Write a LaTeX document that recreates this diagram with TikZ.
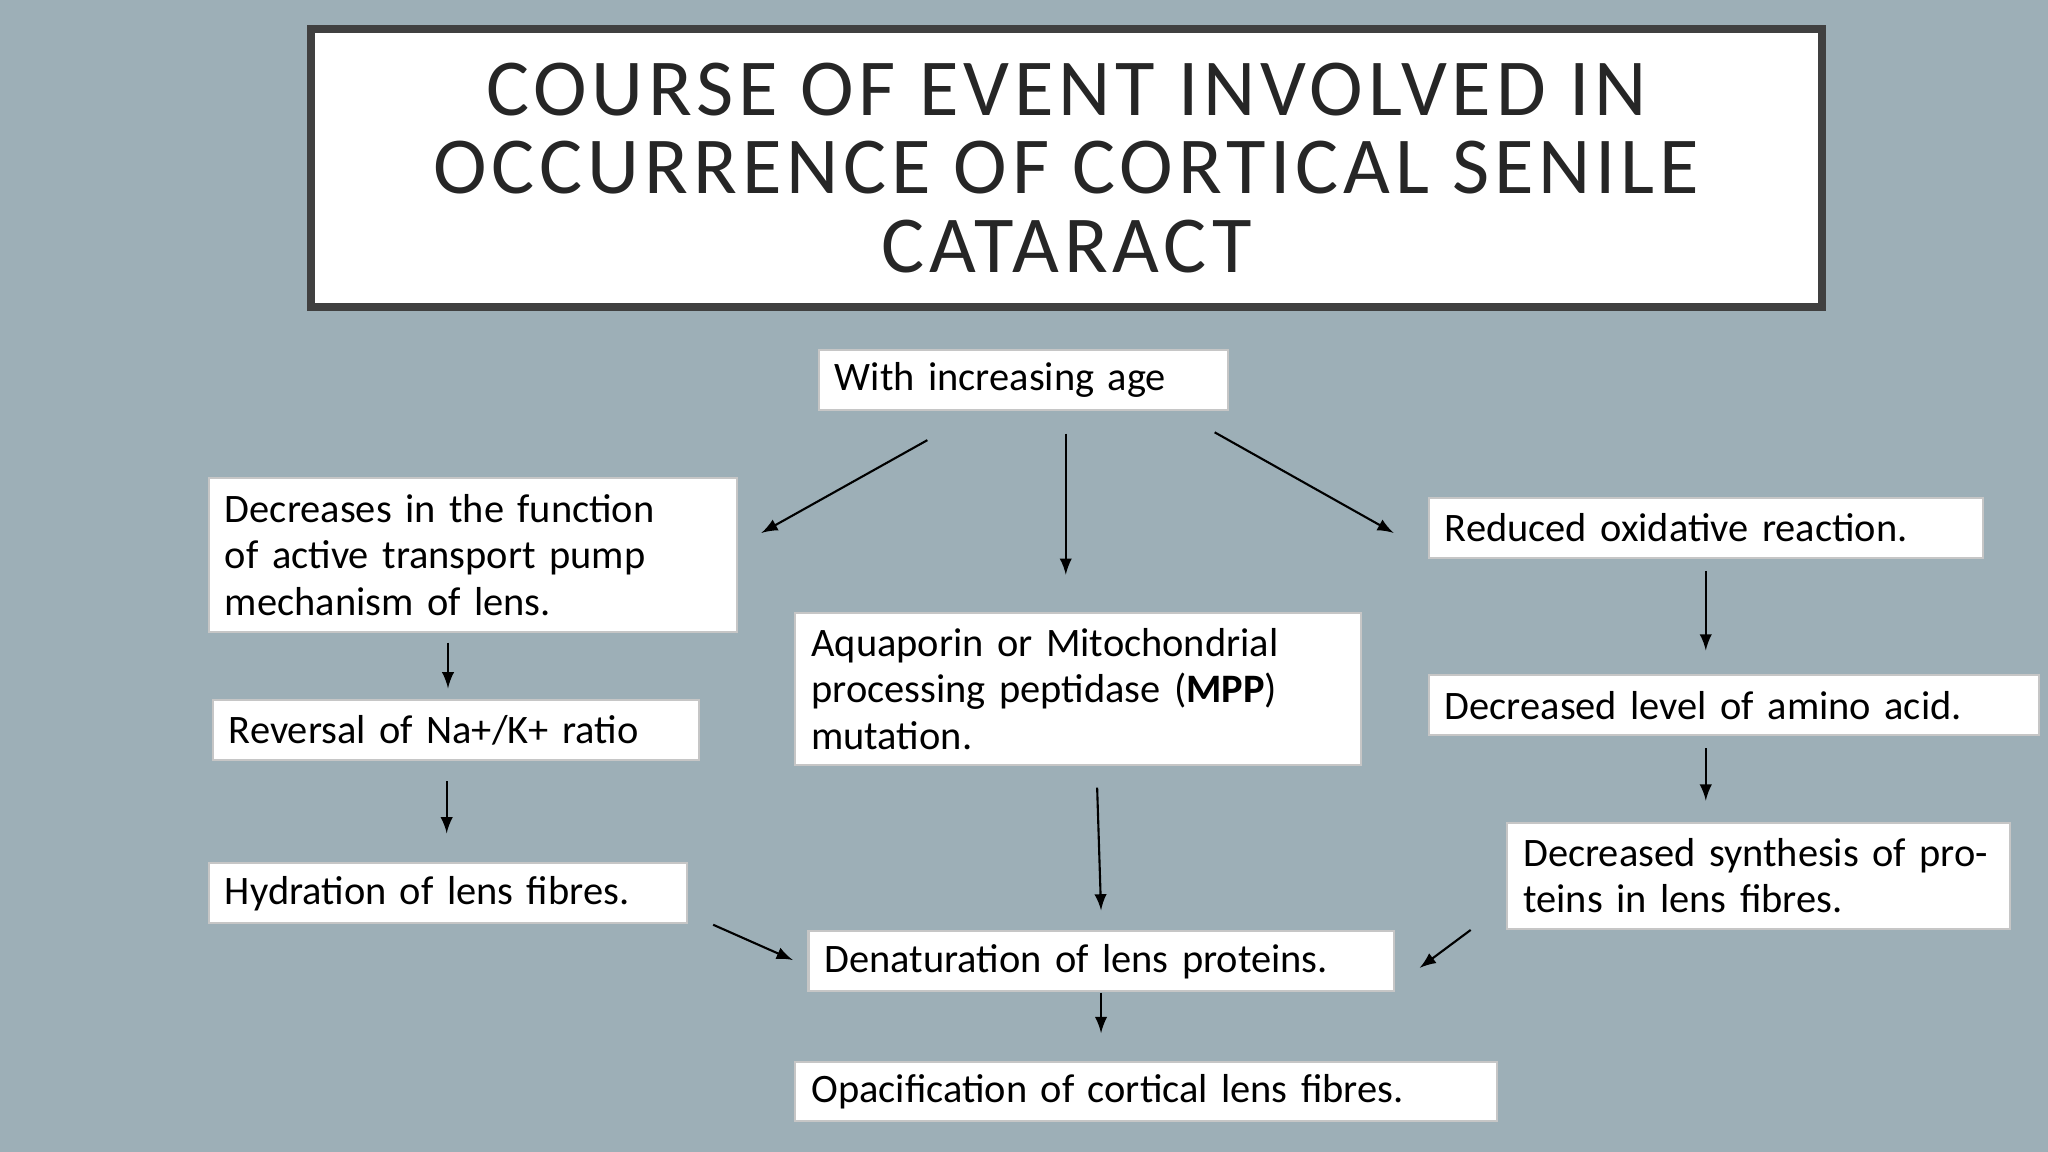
\documentclass[tikz,border=0pt]{standalone}
\usepackage{fontspec}
\setmainfont{Carlito}
\newfontfamily\titlefont[LetterSpace=6]{Carlito}
\begin{document}
\newcommand\bx[6]{%
\pgfmathsetmacro\bw{(#4-#2)*0.013061}%
\pgfmathsetmacro\bh{(#5-#3)*0.013061}%
\pgfmathsetmacro\tw{\bw-0.32}%
\node[box,minimum width=\bw cm,minimum height=\bh cm,text width=\tw cm] (#1) at ({(#2+#4)/2},{(#3+#5)/2}) {#6};}
\begin{tikzpicture}[x=0.013061cm,y=-0.013061cm,
  box/.style={draw=gray!45,fill=white,line width=0.6pt,align=left,inner xsep=0.16cm,inner ysep=0.05cm,
    font=\fontsize{11.5}{13.2}\selectfont},
  arr/.style={-latex,line width=0.6pt,black}]
\fill[fill={rgb,255:red,157;green,175;blue,183}] (0,0) rectangle (1568,882);
\useasboundingbox (0,0) rectangle (1568,882);
\node[draw={rgb,255:red,64;green,64;blue,64},line width=2.2pt,fill=white,minimum width=15.11cm,minimum height=2.78cm,
  align=center,font=\titlefont\fontsize{23}{22.3}\selectfont,text={rgb,255:red,38;green,38;blue,38}] (title) at (816.5,128.5)
  {COURSE OF EVENT INVOLVED IN\\OCCURRENCE OF CORTICAL SENILE\\CATARACT};
\bx{age}{627}{268}{940}{314}{With increasing age}
\bx{dec}{160}{366}{564}{484}{Decreases in the function of active transport pump mechanism of lens.}
\bx{red}{1094}{381}{1518}{427}{Reduced oxidative reaction.}
\bx{aqua}{609}{469}{1042}{586}{Aquaporin or Mitochondrial processing peptidase (\textbf{MPP}) mutation.}
\bx{rev}{163}{536}{535}{582}{Reversal of Na+/K+ ratio}
\bx{lvl}{1094}{517}{1561}{563}{Decreased level of amino acid.}
\bx{hyd}{160}{661}{526}{707}{Hydration of lens fibres.}
\bx{syn}{1154}{630}{1539}{711}{Decreased synthesis of proteins in lens fibres.}
\bx{den}{619}{713}{1067}{759}{Denaturation of lens proteins.}
\bx{opa}{609}{813}{1146}{858}{Opacification of cortical lens fibres.}
\foreach \n/\a/\b/\c/\d in {a1/710/337/583/408, a2/816/332/816/440, a3/930/331/1067/408,
  a4/343/492/343/527, a5/342/598/342/638, a6/1306/437/1306/498, a7/1306/573/1306/613,
  a8/840/603/843/697, a9/546/708/607/735, a10/1126/712/1087/741, a11/843/760/843/791}{
  \coordinate (\n s) at (\a,\b); \coordinate (\n e) at (\c,\d);
  \draw[arr] (\n s) -- (\n e);}
\end{tikzpicture}
\end{document}
